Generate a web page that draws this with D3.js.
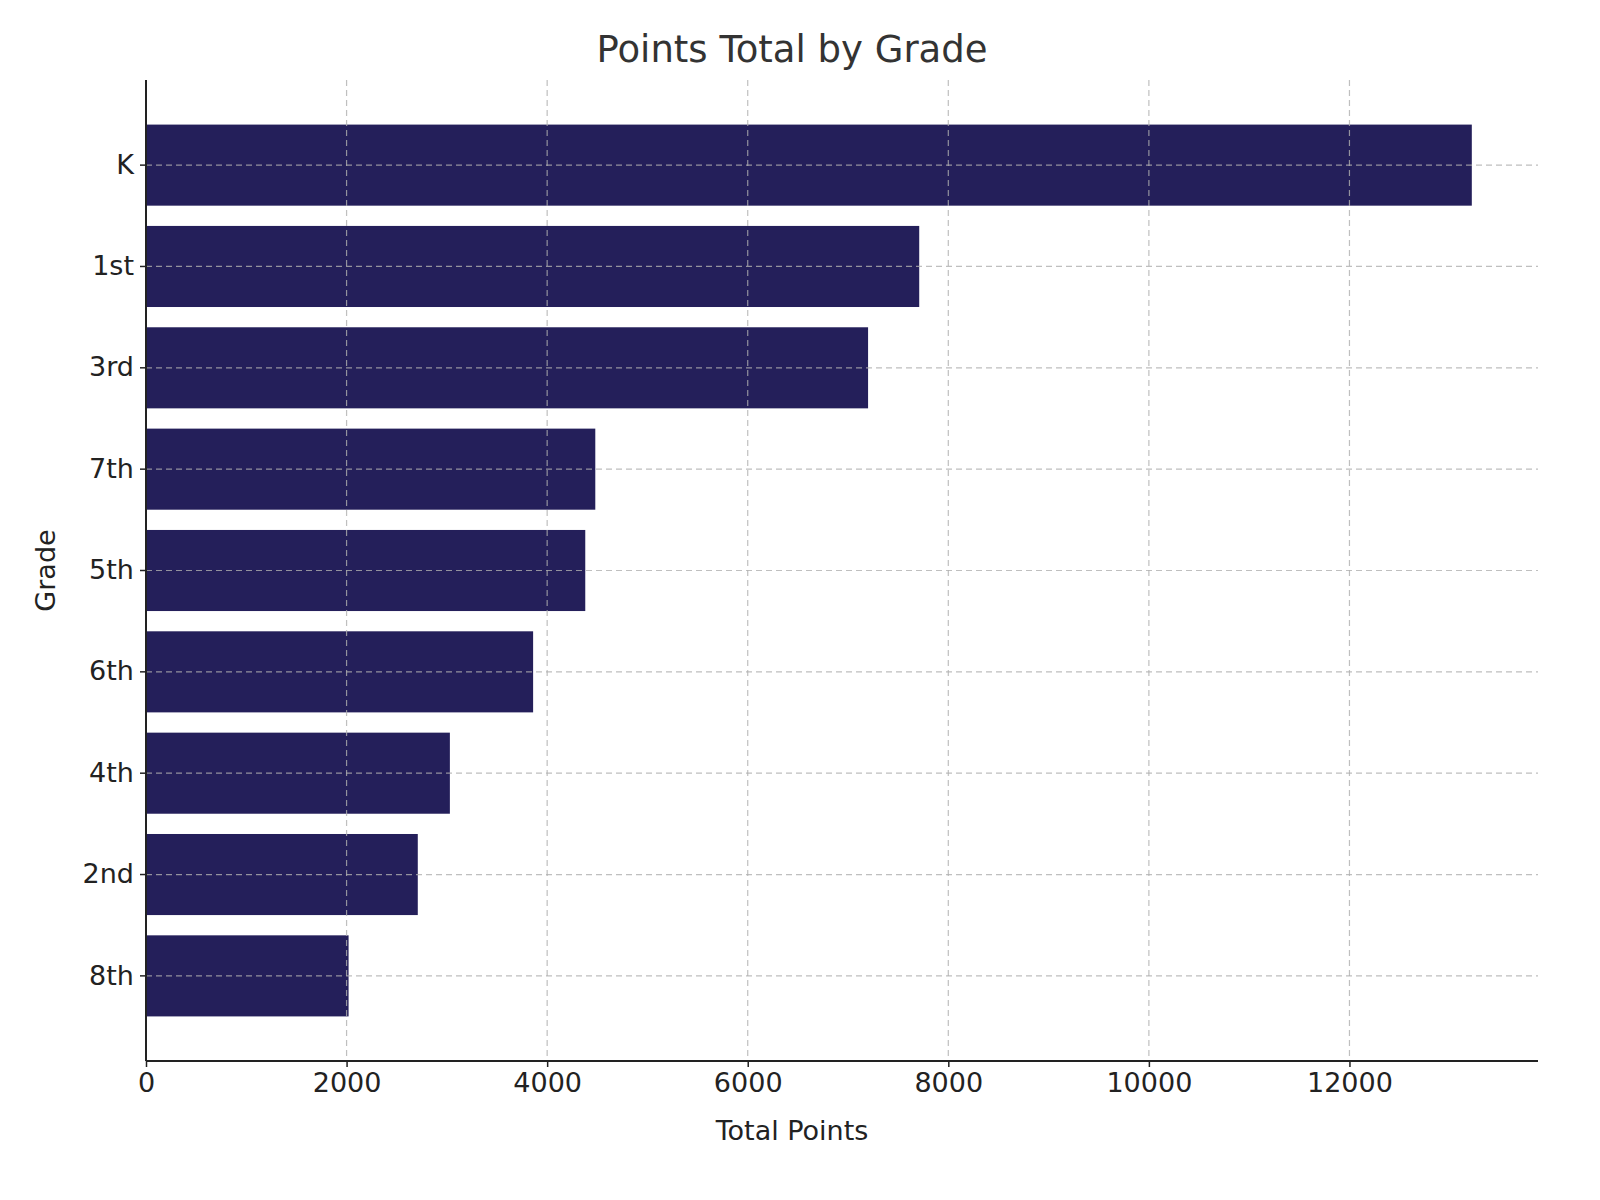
<!DOCTYPE html>
<html>
<head>
<meta charset="utf-8">
<script src="https://cdn.jsdelivr.net/npm/d3@7"></script>
<style>
  body { margin: 0; background: #fff; }
  text { font-family: "DejaVu Sans", sans-serif; fill: #222; }
</style>
</head>
<body>
<svg id="chart" width="1600" height="1200"></svg>
<script>
var grades = ["K", "1st", "3rd", "7th", "5th", "6th", "4th", "2nd", "8th"];
var points = [13220, 7710, 7200, 4480, 4380, 3860, 3030, 2710, 2020];
var xTicks = [0, 2000, 4000, 6000, 8000, 10000, 12000];

var margin = {top: 80, right: 62, bottom: 139, left: 146};
var width = 1600 - margin.left - margin.right;
var height = 1200 - margin.top - margin.bottom;

var svg = d3.select("#chart");
var g = svg.append("g").attr("transform", "translate(" + margin.left + "," + margin.top + ")");

var x = d3.scaleLinear().domain([0, 13880]).range([0, width]);
var y = d3.scaleBand().domain(grades).range([0, height]).paddingInner(0.2).paddingOuter(0.44);

// bars
g.selectAll("rect.bar")
    .data(grades)
  .enter().append("rect")
    .attr("class", "bar")
    .attr("x", 0)
    .attr("y", function(d) { return y(d); })
    .attr("width", function(d, i) { return x(points[i]); })
    .attr("height", y.bandwidth())
    .attr("fill", "#241f5a");

// grid, drawn over the bars
g.selectAll("line.vgrid")
    .data(xTicks)
  .enter().append("line")
    .attr("x1", function(d) { return x(d); })
    .attr("x2", function(d) { return x(d); })
    .attr("y1", 0).attr("y2", height)
    .attr("stroke", "#b0b0b0").attr("stroke-width", 1.2)
    .attr("stroke-dasharray", "6,4").attr("opacity", 0.8);
g.selectAll("line.hgrid")
    .data(grades)
  .enter().append("line")
    .attr("x1", 0).attr("x2", width)
    .attr("y1", function(d) { return y(d) + y.bandwidth() / 2; })
    .attr("y2", function(d) { return y(d) + y.bandwidth() / 2; })
    .attr("stroke", "#b0b0b0").attr("stroke-width", 1.2)
    .attr("stroke-dasharray", "6,4").attr("opacity", 0.8);

// axes
var xAxis = g.append("g")
    .attr("transform", "translate(0," + height + ")")
    .call(d3.axisBottom(x).tickValues(xTicks).tickFormat(d3.format("d")).tickSize(6).tickPadding(6));
var yAxis = g.append("g")
    .call(d3.axisLeft(y).tickSize(6).tickPadding(6));
[xAxis, yAxis].forEach(function(a) {
  a.select(".domain").attr("stroke", "#222").attr("stroke-width", 2);
  a.selectAll(".tick line").attr("stroke", "#222").attr("stroke-width", 1.5);
  a.selectAll(".tick text").style("font-size", "27px").style("font-family", "DejaVu Sans").attr("fill", "#222");
});
xAxis.select(".domain").attr("d", "M0,0H" + width);
yAxis.select(".domain").attr("d", "M0,0V" + height);

svg.append("text")
    .attr("x", margin.left + width / 2 - 50).attr("y", 62)
    .attr("text-anchor", "middle")
    .style("font-size", "37px").style("fill", "#333")
    .text("Points Total by Grade");
svg.append("text")
    .attr("x", margin.left + width / 2 - 50).attr("y", 1140)
    .attr("text-anchor", "middle")
    .style("font-size", "27px")
    .text("Total Points");
svg.append("text")
    .attr("transform", "translate(55," + (margin.top + height / 2) + ") rotate(-90)")
    .attr("text-anchor", "middle")
    .style("font-size", "27px")
    .text("Grade");
</script>
</body>
</html>
